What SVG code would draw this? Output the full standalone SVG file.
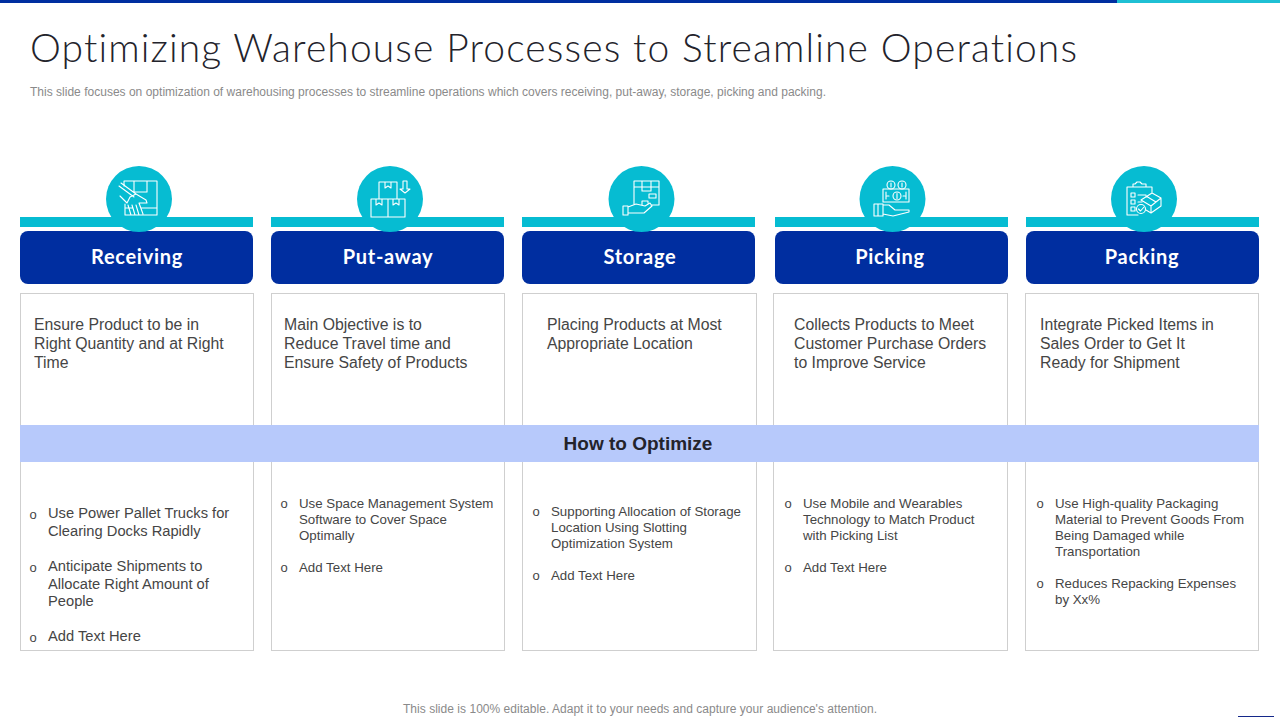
<svg xmlns="http://www.w3.org/2000/svg" width="1280" height="720" viewBox="0 0 1280 720">
<style>
.t{font-family:"Liberation Sans",Arial,sans-serif}
.title{font-family:Lato,"Liberation Sans",sans-serif;font-size:39px;font-weight:300;fill:#23232b;font-variant-ligatures:none}
.sub{font-family:"Liberation Sans",Arial,sans-serif;font-size:12px;fill:#8a8a8a}
.bar{fill:#06bcd2}
.head{fill:#002ea0}
.hl{font-family:Lato,"Liberation Sans",sans-serif;font-size:20px;font-weight:700;fill:#fff;text-anchor:middle;letter-spacing:.7px}
.box{fill:#fff;stroke:#cfcfcf;stroke-width:1}
.up{font-family:"Liberation Sans",Arial,sans-serif;font-size:15.800px;fill:#454545}
.lo{font-family:"Liberation Sans",Arial,sans-serif;font-size:13.300px;fill:#454545}
.lo1{font-family:"Liberation Sans",Arial,sans-serif;font-size:14.700px;fill:#454545}
.bu{font-family:"Liberation Sans",Arial,sans-serif;font-size:13px;fill:#454545}
.ic{fill:none;stroke:#fff;stroke-width:1.1;stroke-linejoin:round;stroke-linecap:round}
</style>
<rect width="1280" height="720" fill="#fff"/>
<rect x="0" y="0" width="1117" height="3" fill="#002ea0"/>
<rect x="1117" y="0" width="163" height="3" fill="#1fc0d4"/>
<text class="title" x="30" y="62" textLength="1047" lengthAdjust="spacing">Optimizing Warehouse Processes to Streamline Operations</text>
<text class="sub" x="30" y="95.500" textLength="796" lengthAdjust="spacing">This slide focuses on optimization of warehousing processes to streamline operations which covers receiving, put-away, storage, picking and packing.</text>

<g id="box-receiving"><rect class="box" x="20.500" y="293.500" width="233" height="357"/>
<text class="up"><tspan x="34" y="330">Ensure Product to be in</tspan><tspan x="34" y="349">Right Quantity  and at Right</tspan><tspan x="34" y="368">Time</tspan></text></g>
<g id="box-putaway"><rect class="box" x="271.500" y="293.500" width="233" height="357"/>
<text class="up"><tspan x="284" y="330">Main Objective is to</tspan><tspan x="284" y="349">Reduce Travel time and</tspan><tspan x="284" y="368">Ensure Safety of Products</tspan></text></g>
<g id="box-storage"><rect class="box" x="522.500" y="293.500" width="234" height="357"/>
<text class="up"><tspan x="547" y="330">Placing Products at Most</tspan><tspan x="547" y="349">Appropriate Location</tspan></text></g>
<g id="box-picking"><rect class="box" x="773.500" y="293.500" width="234" height="357"/>
<text class="up"><tspan x="794" y="330">Collects Products to Meet</tspan><tspan x="794" y="349">Customer Purchase Orders</tspan><tspan x="794" y="368">to Improve Service</tspan></text></g>
<g id="box-packing"><rect class="box" x="1025.500" y="293.500" width="233" height="357"/>
<text class="up"><tspan x="1040" y="330">Integrate Picked Items in</tspan><tspan x="1040" y="349">Sales Order to Get It</tspan><tspan x="1040" y="368">Ready for Shipment</tspan></text></g>

<g id="band"><rect x="20" y="425" width="1239" height="37" fill="#b7c9fb"/>
<text class="t" x="638" y="450" font-size="19" font-weight="700" fill="#23232b" text-anchor="middle">How to Optimize</text></g>

<g id="list-receiving">
<text class="bu" x="29.500" y="519">o</text><text class="bu" x="29.500" y="572">o</text><text class="bu" x="29.500" y="642">o</text>
<text class="lo1"><tspan x="48" y="518">Use Power Pallet Trucks for</tspan><tspan x="48" y="536">Clearing Docks Rapidly</tspan><tspan x="48" y="571">Anticipate Shipments to</tspan><tspan x="48" y="589">Allocate Right Amount of</tspan><tspan x="48" y="606">People</tspan><tspan x="48" y="641">Add Text Here</tspan></text></g>
<g id="list-putaway">
<text class="bu" x="280.500" y="508">o</text><text class="bu" x="280.500" y="572">o</text>
<text class="lo"><tspan x="299" y="508">Use Space Management System</tspan><tspan x="299" y="524">Software to Cover  Space</tspan><tspan x="299" y="540">Optimally</tspan><tspan x="299" y="572">Add Text Here</tspan></text></g>
<g id="list-storage">
<text class="bu" x="532.500" y="516">o</text><text class="bu" x="532.500" y="580">o</text>
<text class="lo"><tspan x="551" y="516">Supporting  Allocation of Storage</tspan><tspan x="551" y="532">Location Using Slotting</tspan><tspan x="551" y="548">Optimization System</tspan><tspan x="551" y="580">Add Text Here</tspan></text></g>
<g id="list-picking">
<text class="bu" x="784.500" y="508">o</text><text class="bu" x="784.500" y="572">o</text>
<text class="lo"><tspan x="803" y="508">Use Mobile and Wearables</tspan><tspan x="803" y="524">Technology  to Match Product</tspan><tspan x="803" y="540">with Picking List</tspan><tspan x="803" y="572">Add Text Here</tspan></text></g>
<g id="list-packing">
<text class="bu" x="1036.500" y="508">o</text><text class="bu" x="1036.500" y="588">o</text>
<text class="lo"><tspan x="1055" y="508">Use High-quality Packaging</tspan><tspan x="1055" y="524">Material to Prevent Goods From</tspan><tspan x="1055" y="540">Being Damaged  while</tspan><tspan x="1055" y="556">Transportation</tspan><tspan x="1055" y="588">Reduces Repacking Expenses</tspan><tspan x="1055" y="604">by Xx%</tspan></text></g>

<g id="receiving">
<rect class="bar" x="20" y="217" width="233" height="10"/><rect class="head" x="20" y="231" width="233" height="53" rx="8"/>
<circle class="bar" cx="139" cy="199" r="33"/>
<text class="hl" x="137" y="264">Receiving</text>
<path class="ic" d="M124 186V181H157V215H125V204M134 181V192H147V181M141 208H157M125 208H133M119 186L134 197M121 183L136 194M120 196L127 203L130 197L136 194L146 200L147 203L139 203L143 214M136 205L139 215M132 205L135 215M128 205L131 215"/>
</g>
<g id="put-away">
<rect class="bar" x="271" y="217" width="233" height="10"/><rect class="head" x="271" y="231" width="233" height="53" rx="8"/>
<circle class="bar" cx="390" cy="199" r="33"/>
<text class="hl" x="388" y="264">Put-away</text>
<path class="ic" d="M379 199V182H397V199M371 199H405V217H371ZM388 199V217M385 182V188L388 186L391 188V182M376 199V205L379 203L382 205V199M393 199V205L396 203L399 205V199M403 181H407V189H410L405 193L400 189H403Z"/>
</g>
<g id="storage">
<rect class="bar" x="522" y="217" width="233" height="10"/><rect class="head" x="522" y="231" width="233" height="53" rx="8"/>
<circle class="bar" cx="641.500" cy="199" r="33"/>
<text class="hl" x="640" y="264">Storage</text>
<path class="ic" d="M634 204V181H659V205H651M634 187H659M642 181V187M651 181V187M642 187V191H651V187M649 194H656V198H649ZM623 206H628V215H623ZM628 207L636 204L645 206L650 203L652 206L644 213L628 213M642 205V201H648V203"/>
</g>
<g id="picking">
<rect class="bar" x="775" y="217" width="233" height="10"/><rect class="head" x="775" y="231" width="233" height="53" rx="8"/>
<circle class="bar" cx="892.500" cy="199" r="33"/>
<text class="hl" x="890" y="264">Picking</text>
<path class="ic" d="M883 189H909V202H883ZM887 196H889M903 196H905M886 192V199M906 192V199M874 204H883V216H874ZM878 204V216M883 205L889 205L895 210L909 210V212L893 216L883 214M897 193.500V198.500M891 183V187M902 183V187"/>
<circle class="ic" cx="897" cy="196" r="4"/><circle class="ic" cx="891" cy="185" r="4"/><circle class="ic" cx="902" cy="185" r="4"/>
</g>
<g id="packing">
<rect class="bar" x="1026" y="217" width="233" height="10"/><rect class="head" x="1026" y="231" width="233" height="53" rx="8"/>
<circle class="bar" cx="1144" cy="199" r="33"/>
<text class="hl" x="1142" y="264">Packing</text>
<path class="ic" d="M1152 192V187H1127V215H1138M1133 187V184H1135L1137 182L1140 182L1142 184H1146V187M1131 193H1135V197H1131ZM1131 200H1135V204H1131ZM1131 207H1135V211H1131ZM1138 195H1146M1138 202H1142M1141 200L1152 193L1161 198V206L1151 213L1146 210M1141 200L1151 206V213M1151 206L1161 198M1146 196L1156 202M1138.500 209L1140.500 211L1144 207"/>
<circle class="ic" cx="1141" cy="209" r="4.500"/>
</g>
<text class="sub" x="403" y="713" textLength="474" lengthAdjust="spacing">This slide is 100% editable. Adapt it to your needs and capture your audience's attention.</text>
<rect x="1238" y="716" width="36" height="1" fill="#14288a"/>
</svg>
